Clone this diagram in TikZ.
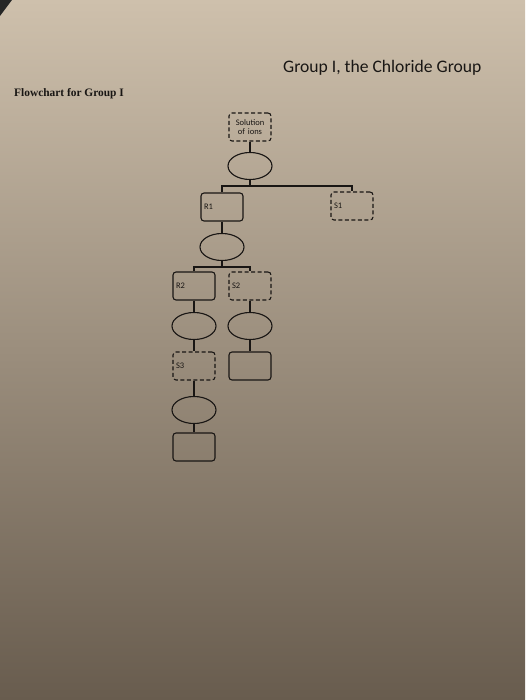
\documentclass[tikz,border=0pt]{standalone}
\usepackage{fontspec}
\setmainfont{Liberation Serif}
\newfontfamily\calib{Carlito}
\usetikzlibrary{shapes.geometric}

\definecolor{pagetop}{RGB}{206,192,172}
\definecolor{pagemid}{RGB}{186,177,165}
\definecolor{pagebot}{RGB}{104,92,78}
\definecolor{ink}{RGB}{25,22,20}

\tikzset{
  pptbox/.style={draw=ink, rounded corners=3pt, line width=1.1pt, minimum width=42pt,
    minimum height=28pt, text width=36pt, inner sep=3pt, align=left,
    font=\calib\fontsize{8.5}{9.5}\selectfont, text=ink},
  supbox/.style={pptbox, dash pattern=on 4pt off 2.5pt},
  stepell/.style={draw=ink, ellipse, line width=1.1pt, minimum width=44pt,
    minimum height=27pt, inner sep=0pt},
  link/.style={draw=ink, line width=1.1pt}
}

\begin{document}
\begin{tikzpicture}[x=1pt,y=-1pt]
\useasboundingbox (0,0) rectangle (525,700);
% page
\shade[top color=pagetop, middle color=pagemid, bottom color=pagebot] (0,0) rectangle (525,700);
\fill[black!85] (0,0) -- (12,0) -- (0,16) -- cycle;

% headings
\node[anchor=base west, inner sep=0pt, text=ink, font=\calib\fontsize{17.6}{20}\selectfont] (title) at (283,73) {Group I, the Chloride Group};
\node[anchor=base west, inner sep=0pt, text=ink, font=\bfseries\fontsize{11.4}{13}\selectfont] (flow) at (14,97) {Flowchart for Group I};

% boxes and tests
\node[supbox, align=center] (sol) at (250,127) {Solution\\of ions};
\node[stepell] (e1) at (250,166) {};
\node[pptbox] (r1) at (222,207) {R1};
\node[supbox] (s1) at (352,206) {S1};
\node[stepell] (e2) at (222,247) {};
\node[pptbox] (r2) at (194,286) {R2};
\node[supbox] (s2) at (250,286) {S2};
\node[stepell] (e3) at (194,326) {};
\node[stepell] (e4) at (250,326) {};
\node[supbox] (s3) at (194,366) {S3};
\node[pptbox] (p4) at (250,366) {};
\node[stepell] (e5) at (194,410) {};
\node[pptbox] (p5) at (194,447) {};

% pomozne tocke
\coordinate (b1) at (250,186);
\coordinate (b2) at (222,267);

\draw[link] (sol) -- (e1);
\draw[link] (e1) -- (b1);
\draw[link] (r1.north) |- (b1) -| (s1.north);
\draw[link] (r1) -- (e2);
\draw[link] (e2) -- (b2);
\draw[link] (r2.north) |- (b2) -| (s2.north);
\draw[link] (r2) -- (e3);
\draw[link] (s2) -- (e4);
\draw[link] (e3) -- (s3);
\draw[link] (e4) -- (p4);
\draw[link] (s3) -- (e5);
\draw[link] (e5) -- (p5);
\end{tikzpicture}
\end{document}
